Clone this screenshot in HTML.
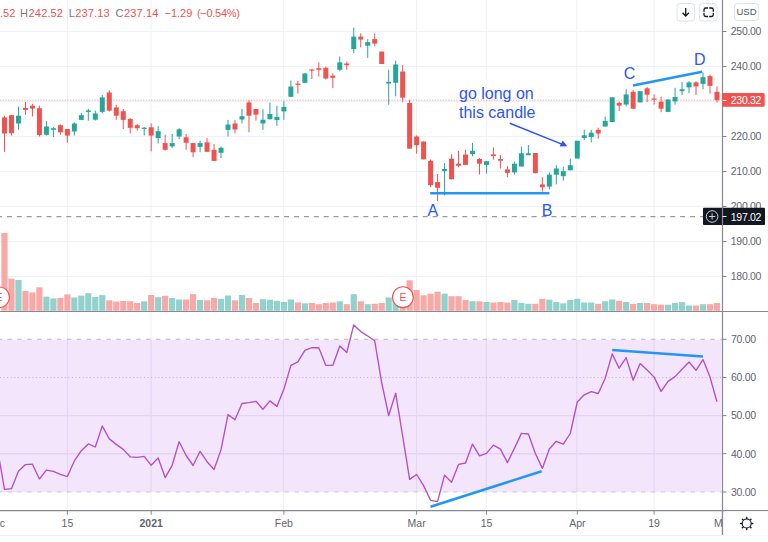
<!DOCTYPE html>
<html><head><meta charset="utf-8"><style>
html,body{margin:0;padding:0;width:768px;height:542px;overflow:hidden;background:#fff}
svg{display:block;position:absolute;left:0;top:0}
text{font-family:"Liberation Sans",sans-serif}
</style></head><body>
<svg width="768" height="542" viewBox="0 0 768 542">
<rect x="0" y="0" width="768" height="542" fill="#fff"/>

<g stroke="#eef1f6" stroke-width="1"><line x1="0" y1="31.5" x2="722" y2="31.5"/><line x1="0" y1="66.5" x2="722" y2="66.5"/><line x1="0" y1="101.5" x2="722" y2="101.5"/><line x1="0" y1="136.5" x2="722" y2="136.5"/><line x1="0" y1="171.5" x2="722" y2="171.5"/><line x1="0" y1="206.5" x2="722" y2="206.5"/><line x1="0" y1="241.5" x2="722" y2="241.5"/><line x1="0" y1="276.5" x2="722" y2="276.5"/><line x1="67.5" y1="0" x2="67.5" y2="510"/><line x1="151" y1="0" x2="151" y2="510"/><line x1="283.5" y1="0" x2="283.5" y2="510"/><line x1="416.5" y1="0" x2="416.5" y2="510"/><line x1="486.3" y1="0" x2="486.3" y2="510"/><line x1="576.8" y1="0" x2="576.8" y2="510"/><line x1="654" y1="0" x2="654" y2="510"/></g>

<g><rect x="1.40" y="232.9" width="6.2" height="77.9" fill="#f7a9a7"/><rect x="8.38" y="278.7" width="6.2" height="32.1" fill="#f7a9a7"/><rect x="15.37" y="280" width="6.2" height="30.8" fill="#92d2cc"/><rect x="22.36" y="291" width="6.2" height="19.8" fill="#f7a9a7"/><rect x="29.34" y="292.5" width="6.2" height="18.3" fill="#f7a9a7"/><rect x="36.33" y="287.3" width="6.2" height="23.5" fill="#f7a9a7"/><rect x="43.31" y="296.6" width="6.2" height="14.2" fill="#92d2cc"/><rect x="50.30" y="298.4" width="6.2" height="12.4" fill="#92d2cc"/><rect x="57.28" y="297.9" width="6.2" height="12.9" fill="#f7a9a7"/><rect x="64.27" y="294.4" width="6.2" height="16.4" fill="#f7a9a7"/><rect x="71.25" y="297.5" width="6.2" height="13.3" fill="#92d2cc"/><rect x="78.24" y="295.6" width="6.2" height="15.2" fill="#92d2cc"/><rect x="85.22" y="293.2" width="6.2" height="17.6" fill="#92d2cc"/><rect x="92.21" y="296.9" width="6.2" height="13.9" fill="#92d2cc"/><rect x="99.19" y="295.1" width="6.2" height="15.7" fill="#92d2cc"/><rect x="106.18" y="300.3" width="6.2" height="10.5" fill="#f7a9a7"/><rect x="113.16" y="301.5" width="6.2" height="9.3" fill="#f7a9a7"/><rect x="120.15" y="301" width="6.2" height="9.8" fill="#f7a9a7"/><rect x="127.13" y="301.3" width="6.2" height="9.5" fill="#f7a9a7"/><rect x="134.12" y="303" width="6.2" height="7.8" fill="#f7a9a7"/><rect x="141.10" y="301.3" width="6.2" height="9.5" fill="#92d2cc"/><rect x="148.09" y="295" width="6.2" height="15.8" fill="#f7a9a7"/><rect x="155.07" y="297.2" width="6.2" height="13.6" fill="#92d2cc"/><rect x="162.06" y="295.8" width="6.2" height="15.0" fill="#f7a9a7"/><rect x="169.04" y="298" width="6.2" height="12.8" fill="#92d2cc"/><rect x="176.03" y="299.5" width="6.2" height="11.3" fill="#92d2cc"/><rect x="183.01" y="299.5" width="6.2" height="11.3" fill="#f7a9a7"/><rect x="190.00" y="294.2" width="6.2" height="16.6" fill="#f7a9a7"/><rect x="196.98" y="300" width="6.2" height="10.8" fill="#92d2cc"/><rect x="203.97" y="300.3" width="6.2" height="10.5" fill="#f7a9a7"/><rect x="210.95" y="297.8" width="6.2" height="13.0" fill="#f7a9a7"/><rect x="217.94" y="298.8" width="6.2" height="12.0" fill="#92d2cc"/><rect x="224.92" y="295.5" width="6.2" height="15.3" fill="#92d2cc"/><rect x="231.91" y="300.3" width="6.2" height="10.5" fill="#f7a9a7"/><rect x="238.89" y="295" width="6.2" height="15.8" fill="#92d2cc"/><rect x="245.88" y="298" width="6.2" height="12.8" fill="#f7a9a7"/><rect x="252.86" y="303" width="6.2" height="7.8" fill="#f7a9a7"/><rect x="259.84" y="299.2" width="6.2" height="11.6" fill="#92d2cc"/><rect x="266.83" y="299.7" width="6.2" height="11.1" fill="#92d2cc"/><rect x="273.81" y="300.8" width="6.2" height="10.0" fill="#92d2cc"/><rect x="280.80" y="302" width="6.2" height="8.8" fill="#92d2cc"/><rect x="287.78" y="299.5" width="6.2" height="11.3" fill="#92d2cc"/><rect x="294.77" y="302.5" width="6.2" height="8.3" fill="#f7a9a7"/><rect x="301.75" y="303.3" width="6.2" height="7.5" fill="#92d2cc"/><rect x="308.74" y="303" width="6.2" height="7.8" fill="#f7a9a7"/><rect x="315.72" y="304.2" width="6.2" height="6.6" fill="#f7a9a7"/><rect x="322.71" y="303" width="6.2" height="7.8" fill="#f7a9a7"/><rect x="329.69" y="302.5" width="6.2" height="8.3" fill="#f7a9a7"/><rect x="336.68" y="301.3" width="6.2" height="9.5" fill="#92d2cc"/><rect x="343.67" y="304.2" width="6.2" height="6.6" fill="#f7a9a7"/><rect x="350.65" y="294.2" width="6.2" height="16.6" fill="#92d2cc"/><rect x="357.63" y="301.3" width="6.2" height="9.5" fill="#f7a9a7"/><rect x="364.62" y="304.2" width="6.2" height="6.6" fill="#92d2cc"/><rect x="371.61" y="303.8" width="6.2" height="7.0" fill="#f7a9a7"/><rect x="378.59" y="303" width="6.2" height="7.8" fill="#f7a9a7"/><rect x="385.57" y="297.5" width="6.2" height="13.3" fill="#92d2cc"/><rect x="392.56" y="300" width="6.2" height="10.8" fill="#92d2cc"/><rect x="399.55" y="296" width="6.2" height="14.8" fill="#f7a9a7"/><rect x="406.53" y="280.3" width="6.2" height="30.5" fill="#f7a9a7"/><rect x="413.51" y="290" width="6.2" height="20.8" fill="#f7a9a7"/><rect x="420.50" y="295.3" width="6.2" height="15.5" fill="#f7a9a7"/><rect x="427.49" y="293.7" width="6.2" height="17.1" fill="#f7a9a7"/><rect x="434.47" y="291.7" width="6.2" height="19.1" fill="#f7a9a7"/><rect x="441.45" y="293.7" width="6.2" height="17.1" fill="#92d2cc"/><rect x="448.44" y="296.2" width="6.2" height="14.6" fill="#f7a9a7"/><rect x="455.43" y="296.2" width="6.2" height="14.6" fill="#f7a9a7"/><rect x="462.41" y="300" width="6.2" height="10.8" fill="#f7a9a7"/><rect x="469.39" y="301.2" width="6.2" height="9.6" fill="#92d2cc"/><rect x="476.38" y="301.3" width="6.2" height="9.5" fill="#f7a9a7"/><rect x="483.37" y="302" width="6.2" height="8.8" fill="#92d2cc"/><rect x="490.35" y="302.5" width="6.2" height="8.3" fill="#f7a9a7"/><rect x="497.33" y="302" width="6.2" height="8.8" fill="#f7a9a7"/><rect x="504.32" y="302.5" width="6.2" height="8.3" fill="#f7a9a7"/><rect x="511.30" y="300" width="6.2" height="10.8" fill="#92d2cc"/><rect x="518.29" y="303" width="6.2" height="7.8" fill="#92d2cc"/><rect x="525.27" y="303.8" width="6.2" height="7.0" fill="#92d2cc"/><rect x="532.26" y="303.8" width="6.2" height="7.0" fill="#f7a9a7"/><rect x="539.25" y="298.8" width="6.2" height="12.0" fill="#f7a9a7"/><rect x="546.23" y="299.7" width="6.2" height="11.1" fill="#92d2cc"/><rect x="553.22" y="302" width="6.2" height="8.8" fill="#92d2cc"/><rect x="560.20" y="303.3" width="6.2" height="7.5" fill="#92d2cc"/><rect x="567.19" y="300" width="6.2" height="10.8" fill="#92d2cc"/><rect x="574.17" y="298.8" width="6.2" height="12.0" fill="#92d2cc"/><rect x="581.15" y="302.5" width="6.2" height="8.3" fill="#92d2cc"/><rect x="588.14" y="302.5" width="6.2" height="8.3" fill="#92d2cc"/><rect x="595.12" y="303.8" width="6.2" height="7.0" fill="#f7a9a7"/><rect x="602.11" y="301.3" width="6.2" height="9.5" fill="#92d2cc"/><rect x="609.10" y="299.5" width="6.2" height="11.3" fill="#92d2cc"/><rect x="616.08" y="300.8" width="6.2" height="10.0" fill="#f7a9a7"/><rect x="623.07" y="302" width="6.2" height="8.8" fill="#92d2cc"/><rect x="630.05" y="303.8" width="6.2" height="7.0" fill="#f7a9a7"/><rect x="637.03" y="303" width="6.2" height="7.8" fill="#92d2cc"/><rect x="644.02" y="303" width="6.2" height="7.8" fill="#f7a9a7"/><rect x="651.00" y="304.2" width="6.2" height="6.6" fill="#f7a9a7"/><rect x="657.99" y="304.7" width="6.2" height="6.1" fill="#f7a9a7"/><rect x="664.98" y="304.7" width="6.2" height="6.1" fill="#92d2cc"/><rect x="671.96" y="303" width="6.2" height="7.8" fill="#92d2cc"/><rect x="678.95" y="302.2" width="6.2" height="8.6" fill="#92d2cc"/><rect x="685.93" y="305.5" width="6.2" height="5.3" fill="#92d2cc"/><rect x="692.91" y="305.5" width="6.2" height="5.3" fill="#f7a9a7"/><rect x="699.90" y="304.2" width="6.2" height="6.6" fill="#92d2cc"/><rect x="706.88" y="304.2" width="6.2" height="6.6" fill="#f7a9a7"/><rect x="713.87" y="303" width="6.2" height="7.8" fill="#f7a9a7"/></g>

<circle cx="-1" cy="297.3" r="10.4" fill="#fff" stroke="#ef5350" stroke-width="1.1"/>
<text x="-1" y="301.3" font-size="10.5" fill="#ef5350" text-anchor="middle">E</text>

<circle cx="402.9" cy="297.2" r="10.4" fill="#fff" stroke="#ef5350" stroke-width="1.1"/>
<text x="402.9" y="301.2" font-size="10.5" fill="#ef5350" text-anchor="middle">E</text>

<line x1="0" y1="100.2" x2="722" y2="100.2" stroke="#ef5350" stroke-width="1.1" stroke-dasharray="1.2 1.5" opacity="0.5"/>

<line x1="0" y1="216.6" x2="703" y2="216.6" stroke="#979ba6" stroke-width="1.1" stroke-dasharray="5 4.9" stroke-dashoffset="3"/>

<g><line x1="4.50" y1="115.7" x2="4.50" y2="151.8" stroke="#ef5350" stroke-width="1"/><rect x="2.00" y="117.4" width="5" height="16.1" fill="#ef5350"/><line x1="11.48" y1="115.2" x2="11.48" y2="135.6" stroke="#ef5350" stroke-width="1"/><rect x="8.98" y="115.2" width="5" height="18.0" fill="#ef5350"/><line x1="18.47" y1="106.6" x2="18.47" y2="129.8" stroke="#26a69a" stroke-width="1"/><rect x="15.97" y="115.7" width="5" height="7.8" fill="#26a69a"/><line x1="25.46" y1="102.1" x2="25.46" y2="114.9" stroke="#ef5350" stroke-width="1"/><rect x="22.96" y="107.9" width="5" height="2.0" fill="#ef5350"/><line x1="32.44" y1="103.8" x2="32.44" y2="116.5" stroke="#ef5350" stroke-width="1"/><rect x="29.94" y="105.7" width="5" height="2.9" fill="#ef5350"/><line x1="39.43" y1="105.7" x2="39.43" y2="136.5" stroke="#ef5350" stroke-width="1"/><rect x="36.93" y="108.2" width="5" height="26.9" fill="#ef5350"/><line x1="46.41" y1="121.2" x2="46.41" y2="135.6" stroke="#26a69a" stroke-width="1"/><rect x="43.91" y="126.5" width="5" height="8.3" fill="#26a69a"/><line x1="53.40" y1="127.0" x2="53.40" y2="137.0" stroke="#26a69a" stroke-width="1"/><rect x="50.90" y="128.2" width="5" height="1.6" fill="#26a69a"/><line x1="60.38" y1="124.5" x2="60.38" y2="134.8" stroke="#ef5350" stroke-width="1"/><rect x="57.88" y="125.2" width="5" height="7.1" fill="#ef5350"/><line x1="67.37" y1="129.0" x2="67.37" y2="142.8" stroke="#ef5350" stroke-width="1"/><rect x="64.87" y="129.0" width="5" height="6.6" fill="#ef5350"/><line x1="74.35" y1="122.4" x2="74.35" y2="135.6" stroke="#26a69a" stroke-width="1"/><rect x="71.85" y="123.5" width="5" height="8.0" fill="#26a69a"/><line x1="81.34" y1="112.9" x2="81.34" y2="120.2" stroke="#26a69a" stroke-width="1"/><rect x="78.84" y="115.2" width="5" height="4.7" fill="#26a69a"/><line x1="88.32" y1="109.0" x2="88.32" y2="120.7" stroke="#26a69a" stroke-width="1"/><rect x="85.82" y="110.4" width="5" height="1.5" fill="#26a69a"/><line x1="95.31" y1="110.7" x2="95.31" y2="120.5" stroke="#26a69a" stroke-width="1"/><rect x="92.81" y="113.5" width="5" height="6.2" fill="#26a69a"/><line x1="102.29" y1="95.0" x2="102.29" y2="113.2" stroke="#26a69a" stroke-width="1"/><rect x="99.79" y="97.4" width="5" height="14.5" fill="#26a69a"/><line x1="109.28" y1="90.3" x2="109.28" y2="111.5" stroke="#ef5350" stroke-width="1"/><rect x="106.78" y="92.5" width="5" height="18.2" fill="#ef5350"/><line x1="116.26" y1="104.6" x2="116.26" y2="119.9" stroke="#ef5350" stroke-width="1"/><rect x="113.76" y="107.4" width="5" height="8.3" fill="#ef5350"/><line x1="123.25" y1="109.0" x2="123.25" y2="129.0" stroke="#ef5350" stroke-width="1"/><rect x="120.75" y="111.2" width="5" height="8.7" fill="#ef5350"/><line x1="130.23" y1="117.9" x2="130.23" y2="133.5" stroke="#ef5350" stroke-width="1"/><rect x="127.73" y="119.0" width="5" height="8.8" fill="#ef5350"/><line x1="137.22" y1="124.0" x2="137.22" y2="130.7" stroke="#ef5350" stroke-width="1"/><rect x="134.72" y="125.2" width="5" height="3.0" fill="#ef5350"/><line x1="144.20" y1="127.0" x2="144.20" y2="135.6" stroke="#26a69a" stroke-width="1"/><rect x="141.70" y="127.7" width="5" height="1.2" fill="#26a69a"/><line x1="151.19" y1="123.5" x2="151.19" y2="151.4" stroke="#ef5350" stroke-width="1"/><rect x="148.69" y="127.3" width="5" height="8.3" fill="#ef5350"/><line x1="158.17" y1="126.2" x2="158.17" y2="143.5" stroke="#26a69a" stroke-width="1"/><rect x="155.67" y="131.2" width="5" height="6.9" fill="#26a69a"/><line x1="165.16" y1="134.8" x2="165.16" y2="150.6" stroke="#ef5350" stroke-width="1"/><rect x="162.66" y="143.1" width="5" height="6.7" fill="#ef5350"/><line x1="172.14" y1="134.0" x2="172.14" y2="148.1" stroke="#26a69a" stroke-width="1"/><rect x="169.64" y="143.1" width="5" height="3.3" fill="#26a69a"/><line x1="179.12" y1="128.2" x2="179.12" y2="139.0" stroke="#26a69a" stroke-width="1"/><rect x="176.62" y="129.3" width="5" height="7.2" fill="#26a69a"/><line x1="186.11" y1="134.0" x2="186.11" y2="149.8" stroke="#ef5350" stroke-width="1"/><rect x="183.61" y="137.3" width="5" height="5.5" fill="#ef5350"/><line x1="193.09" y1="143.1" x2="193.09" y2="157.2" stroke="#ef5350" stroke-width="1"/><rect x="190.59" y="143.1" width="5" height="9.2" fill="#ef5350"/><line x1="200.08" y1="140.6" x2="200.08" y2="152.3" stroke="#26a69a" stroke-width="1"/><rect x="197.58" y="143.1" width="5" height="3.7" fill="#26a69a"/><line x1="207.06" y1="138.1" x2="207.06" y2="151.8" stroke="#ef5350" stroke-width="1"/><rect x="204.56" y="142.3" width="5" height="9.5" fill="#ef5350"/><line x1="214.05" y1="144.0" x2="214.05" y2="160.9" stroke="#ef5350" stroke-width="1"/><rect x="211.55" y="149.8" width="5" height="11.1" fill="#ef5350"/><line x1="221.03" y1="146.4" x2="221.03" y2="158.0" stroke="#26a69a" stroke-width="1"/><rect x="218.53" y="147.8" width="5" height="5.0" fill="#26a69a"/><line x1="228.02" y1="119.9" x2="228.02" y2="136.5" stroke="#26a69a" stroke-width="1"/><rect x="225.52" y="124.5" width="5" height="5.3" fill="#26a69a"/><line x1="235.01" y1="119.9" x2="235.01" y2="133.5" stroke="#ef5350" stroke-width="1"/><rect x="232.51" y="123.5" width="5" height="6.0" fill="#ef5350"/><line x1="241.99" y1="109.0" x2="241.99" y2="123.5" stroke="#26a69a" stroke-width="1"/><rect x="239.49" y="116.2" width="5" height="3.3" fill="#26a69a"/><line x1="248.98" y1="100.3" x2="248.98" y2="132.3" stroke="#ef5350" stroke-width="1"/><rect x="246.48" y="102.4" width="5" height="13.3" fill="#ef5350"/><line x1="255.96" y1="109.0" x2="255.96" y2="120.6" stroke="#ef5350" stroke-width="1"/><rect x="253.46" y="109.0" width="5" height="5.6" fill="#ef5350"/><line x1="262.94" y1="109.3" x2="262.94" y2="129.8" stroke="#26a69a" stroke-width="1"/><rect x="260.44" y="119.7" width="5" height="3.8" fill="#26a69a"/><line x1="269.93" y1="102.6" x2="269.93" y2="119.5" stroke="#26a69a" stroke-width="1"/><rect x="267.43" y="114.0" width="5" height="5.2" fill="#26a69a"/><line x1="276.92" y1="105.8" x2="276.92" y2="125.9" stroke="#26a69a" stroke-width="1"/><rect x="274.42" y="116.9" width="5" height="3.2" fill="#26a69a"/><line x1="283.90" y1="101.2" x2="283.90" y2="119.9" stroke="#26a69a" stroke-width="1"/><rect x="281.40" y="106.9" width="5" height="4.5" fill="#26a69a"/><line x1="290.88" y1="80.5" x2="290.88" y2="97.1" stroke="#26a69a" stroke-width="1"/><rect x="288.38" y="86.6" width="5" height="10.2" fill="#26a69a"/><line x1="297.87" y1="80.6" x2="297.87" y2="93.5" stroke="#ef5350" stroke-width="1"/><rect x="295.37" y="83.6" width="5" height="1.3" fill="#ef5350"/><line x1="304.86" y1="72.8" x2="304.86" y2="82.8" stroke="#26a69a" stroke-width="1"/><rect x="302.36" y="73.5" width="5" height="9.3" fill="#26a69a"/><line x1="311.84" y1="69.0" x2="311.84" y2="79.0" stroke="#ef5350" stroke-width="1"/><rect x="309.34" y="69.5" width="5" height="1.2" fill="#ef5350"/><line x1="318.82" y1="62.4" x2="318.82" y2="76.5" stroke="#ef5350" stroke-width="1"/><rect x="316.32" y="68.2" width="5" height="1.6" fill="#ef5350"/><line x1="325.81" y1="66.5" x2="325.81" y2="79.5" stroke="#ef5350" stroke-width="1"/><rect x="323.31" y="67.8" width="5" height="10.7" fill="#ef5350"/><line x1="332.80" y1="73.2" x2="332.80" y2="88.1" stroke="#ef5350" stroke-width="1"/><rect x="330.30" y="75.6" width="5" height="2.2" fill="#ef5350"/><line x1="339.78" y1="56.5" x2="339.78" y2="71.2" stroke="#26a69a" stroke-width="1"/><rect x="337.28" y="62.4" width="5" height="7.4" fill="#26a69a"/><line x1="346.77" y1="61.5" x2="346.77" y2="69.8" stroke="#ef5350" stroke-width="1"/><rect x="344.27" y="63.5" width="5" height="1.7" fill="#ef5350"/><line x1="353.75" y1="27.5" x2="353.75" y2="53.2" stroke="#26a69a" stroke-width="1"/><rect x="351.25" y="36.6" width="5" height="12.5" fill="#26a69a"/><line x1="360.74" y1="33.3" x2="360.74" y2="47.4" stroke="#ef5350" stroke-width="1"/><rect x="358.24" y="36.6" width="5" height="3.0" fill="#ef5350"/><line x1="367.72" y1="39.1" x2="367.72" y2="57.9" stroke="#26a69a" stroke-width="1"/><rect x="365.22" y="42.1" width="5" height="3.6" fill="#26a69a"/><line x1="374.71" y1="33.6" x2="374.71" y2="46.2" stroke="#ef5350" stroke-width="1"/><rect x="372.21" y="39.1" width="5" height="4.5" fill="#ef5350"/><line x1="381.69" y1="51.6" x2="381.69" y2="64.0" stroke="#ef5350" stroke-width="1"/><rect x="379.19" y="51.6" width="5" height="12.4" fill="#ef5350"/><line x1="388.68" y1="69.8" x2="388.68" y2="104.7" stroke="#26a69a" stroke-width="1"/><rect x="386.18" y="81.8" width="5" height="1.7" fill="#26a69a"/><line x1="395.66" y1="60.7" x2="395.66" y2="96.4" stroke="#26a69a" stroke-width="1"/><rect x="393.16" y="64.5" width="5" height="18.3" fill="#26a69a"/><line x1="402.65" y1="64.9" x2="402.65" y2="102.2" stroke="#ef5350" stroke-width="1"/><rect x="400.15" y="71.5" width="5" height="26.2" fill="#ef5350"/><line x1="409.63" y1="99.7" x2="409.63" y2="148.6" stroke="#ef5350" stroke-width="1"/><rect x="407.13" y="103.0" width="5" height="45.6" fill="#ef5350"/><line x1="416.62" y1="135.4" x2="416.62" y2="153.7" stroke="#ef5350" stroke-width="1"/><rect x="414.12" y="136.5" width="5" height="8.7" fill="#ef5350"/><line x1="423.60" y1="141.5" x2="423.60" y2="159.4" stroke="#ef5350" stroke-width="1"/><rect x="421.10" y="141.5" width="5" height="17.9" fill="#ef5350"/><line x1="430.59" y1="159.4" x2="430.59" y2="187.2" stroke="#ef5350" stroke-width="1"/><rect x="428.09" y="160.8" width="5" height="24.4" fill="#ef5350"/><line x1="437.57" y1="174.0" x2="437.57" y2="200.8" stroke="#ef5350" stroke-width="1"/><rect x="435.07" y="182.1" width="5" height="5.7" fill="#ef5350"/><line x1="444.56" y1="163.0" x2="444.56" y2="195.2" stroke="#26a69a" stroke-width="1"/><rect x="442.06" y="169.0" width="5" height="2.1" fill="#26a69a"/><line x1="451.54" y1="154.1" x2="451.54" y2="179.3" stroke="#ef5350" stroke-width="1"/><rect x="449.04" y="158.6" width="5" height="20.7" fill="#ef5350"/><line x1="458.53" y1="150.8" x2="458.53" y2="167.4" stroke="#ef5350" stroke-width="1"/><rect x="456.03" y="163.7" width="5" height="2.0" fill="#ef5350"/><line x1="465.51" y1="149.6" x2="465.51" y2="164.9" stroke="#ef5350" stroke-width="1"/><rect x="463.01" y="154.6" width="5" height="10.3" fill="#ef5350"/><line x1="472.50" y1="143.0" x2="472.50" y2="156.2" stroke="#26a69a" stroke-width="1"/><rect x="470.00" y="150.8" width="5" height="3.3" fill="#26a69a"/><line x1="479.48" y1="157.9" x2="479.48" y2="174.5" stroke="#ef5350" stroke-width="1"/><rect x="476.98" y="159.0" width="5" height="4.7" fill="#ef5350"/><line x1="486.47" y1="161.2" x2="486.47" y2="173.5" stroke="#26a69a" stroke-width="1"/><rect x="483.97" y="161.2" width="5" height="3.7" fill="#26a69a"/><line x1="493.45" y1="147.4" x2="493.45" y2="159.6" stroke="#ef5350" stroke-width="1"/><rect x="490.95" y="154.4" width="5" height="1.7" fill="#ef5350"/><line x1="500.44" y1="154.9" x2="500.44" y2="168.5" stroke="#ef5350" stroke-width="1"/><rect x="497.94" y="159.1" width="5" height="1.6" fill="#ef5350"/><line x1="507.42" y1="166.2" x2="507.42" y2="177.3" stroke="#ef5350" stroke-width="1"/><rect x="504.92" y="169.4" width="5" height="3.5" fill="#ef5350"/><line x1="514.40" y1="161.6" x2="514.40" y2="174.5" stroke="#26a69a" stroke-width="1"/><rect x="511.90" y="163.7" width="5" height="8.7" fill="#26a69a"/><line x1="521.39" y1="146.6" x2="521.39" y2="166.5" stroke="#26a69a" stroke-width="1"/><rect x="518.89" y="153.3" width="5" height="13.2" fill="#26a69a"/><line x1="528.38" y1="145.0" x2="528.38" y2="155.2" stroke="#26a69a" stroke-width="1"/><rect x="525.88" y="153.3" width="5" height="1.9" fill="#26a69a"/><line x1="535.36" y1="153.0" x2="535.36" y2="173.2" stroke="#ef5350" stroke-width="1"/><rect x="532.86" y="153.0" width="5" height="20.2" fill="#ef5350"/><line x1="542.35" y1="177.3" x2="542.35" y2="191.7" stroke="#ef5350" stroke-width="1"/><rect x="539.85" y="184.4" width="5" height="2.9" fill="#ef5350"/><line x1="549.33" y1="172.5" x2="549.33" y2="189.5" stroke="#26a69a" stroke-width="1"/><rect x="546.83" y="174.7" width="5" height="11.9" fill="#26a69a"/><line x1="556.32" y1="165.2" x2="556.32" y2="184.4" stroke="#26a69a" stroke-width="1"/><rect x="553.82" y="168.5" width="5" height="6.2" fill="#26a69a"/><line x1="563.30" y1="166.7" x2="563.30" y2="180.7" stroke="#26a69a" stroke-width="1"/><rect x="560.80" y="171.2" width="5" height="5.0" fill="#26a69a"/><line x1="570.29" y1="158.5" x2="570.29" y2="170.3" stroke="#26a69a" stroke-width="1"/><rect x="567.79" y="165.2" width="5" height="5.1" fill="#26a69a"/><line x1="577.27" y1="140.8" x2="577.27" y2="158.5" stroke="#26a69a" stroke-width="1"/><rect x="574.77" y="140.8" width="5" height="17.7" fill="#26a69a"/><line x1="584.25" y1="129.8" x2="584.25" y2="140.2" stroke="#26a69a" stroke-width="1"/><rect x="581.75" y="135.3" width="5" height="2.7" fill="#26a69a"/><line x1="591.24" y1="129.8" x2="591.24" y2="142.4" stroke="#26a69a" stroke-width="1"/><rect x="588.74" y="132.7" width="5" height="4.4" fill="#26a69a"/><line x1="598.23" y1="127.6" x2="598.23" y2="138.6" stroke="#ef5350" stroke-width="1"/><rect x="595.73" y="129.8" width="5" height="3.7" fill="#ef5350"/><line x1="605.21" y1="116.5" x2="605.21" y2="126.5" stroke="#26a69a" stroke-width="1"/><rect x="602.71" y="120.9" width="5" height="5.6" fill="#26a69a"/><line x1="612.20" y1="97.3" x2="612.20" y2="122.0" stroke="#26a69a" stroke-width="1"/><rect x="609.70" y="97.3" width="5" height="24.7" fill="#26a69a"/><line x1="619.18" y1="101.7" x2="619.18" y2="111.1" stroke="#ef5350" stroke-width="1"/><rect x="616.68" y="102.8" width="5" height="2.8" fill="#ef5350"/><line x1="626.17" y1="89.3" x2="626.17" y2="106.3" stroke="#26a69a" stroke-width="1"/><rect x="623.67" y="94.4" width="5" height="10.1" fill="#26a69a"/><line x1="633.15" y1="90.0" x2="633.15" y2="109.3" stroke="#ef5350" stroke-width="1"/><rect x="630.65" y="91.8" width="5" height="16.9" fill="#ef5350"/><line x1="640.13" y1="91.2" x2="640.13" y2="102.4" stroke="#26a69a" stroke-width="1"/><rect x="637.63" y="91.2" width="5" height="11.2" fill="#26a69a"/><line x1="647.12" y1="87.1" x2="647.12" y2="102.0" stroke="#ef5350" stroke-width="1"/><rect x="644.62" y="88.3" width="5" height="6.4" fill="#ef5350"/><line x1="654.11" y1="94.4" x2="654.11" y2="104.6" stroke="#ef5350" stroke-width="1"/><rect x="651.61" y="98.5" width="5" height="1.2" fill="#ef5350"/><line x1="661.09" y1="96.6" x2="661.09" y2="112.2" stroke="#ef5350" stroke-width="1"/><rect x="658.59" y="101.7" width="5" height="7.0" fill="#ef5350"/><line x1="668.08" y1="99.5" x2="668.08" y2="111.9" stroke="#26a69a" stroke-width="1"/><rect x="665.58" y="99.5" width="5" height="12.4" fill="#26a69a"/><line x1="675.06" y1="87.8" x2="675.06" y2="104.6" stroke="#26a69a" stroke-width="1"/><rect x="672.56" y="97.0" width="5" height="4.4" fill="#26a69a"/><line x1="682.05" y1="82.0" x2="682.05" y2="95.1" stroke="#26a69a" stroke-width="1"/><rect x="679.55" y="89.3" width="5" height="1.9" fill="#26a69a"/><line x1="689.03" y1="81.2" x2="689.03" y2="93.2" stroke="#26a69a" stroke-width="1"/><rect x="686.53" y="82.4" width="5" height="5.0" fill="#26a69a"/><line x1="696.01" y1="81.2" x2="696.01" y2="95.1" stroke="#ef5350" stroke-width="1"/><rect x="693.51" y="82.4" width="5" height="4.0" fill="#ef5350"/><line x1="703.00" y1="72.5" x2="703.00" y2="89.3" stroke="#26a69a" stroke-width="1"/><rect x="700.50" y="77.2" width="5" height="6.7" fill="#26a69a"/><line x1="709.99" y1="74.7" x2="709.99" y2="93.6" stroke="#ef5350" stroke-width="1"/><rect x="707.49" y="76.1" width="5" height="9.8" fill="#ef5350"/><line x1="716.97" y1="86.4" x2="716.97" y2="102.4" stroke="#ef5350" stroke-width="1"/><rect x="714.47" y="91.8" width="5" height="8.4" fill="#ef5350"/></g>

<line x1="430.2" y1="193.3" x2="549.4" y2="193.3" stroke="#2196f3" stroke-width="2.5"/>
<line x1="633" y1="85.6" x2="702.2" y2="71.8" stroke="#2196f3" stroke-width="2.5"/>
<line x1="509.8" y1="123.3" x2="563" y2="144.6" stroke="#2e55f0" stroke-width="1.5"/>
<polygon points="567.2,146.3 559.6,146.4 562.8,140.4" fill="#2e55f0"/>

<text x="427.6" y="216.4" font-size="16" fill="#2d56f2">A</text>
<text x="541.8" y="216.4" font-size="16" fill="#2d56f2">B</text>
<text x="623.8" y="79" font-size="16" fill="#2d56f2">C</text>
<text x="694" y="64.8" font-size="16" fill="#2d56f2">D</text>
<text x="459" y="99.4" font-size="16" fill="#2d56f2">go long on</text>
<text x="459" y="118.4" font-size="16" fill="#2d56f2">this candle</text>

<g font-size="11">
<text x="0" y="16.8" fill="#ef5350">.52</text>
<text x="20" y="16.8" fill="#787b86">H</text>
<text x="28.6" y="16.8" fill="#ef5350" letter-spacing="0.15">242.52</text>
<text x="68.8" y="16.8" fill="#787b86">L</text>
<text x="75.3" y="16.8" fill="#ef5350" letter-spacing="0.15">237.13</text>
<text x="115.6" y="16.8" fill="#787b86">C</text>
<text x="124" y="16.8" fill="#ef5350" letter-spacing="0.15">237.14</text>
<text x="164.5" y="16.8" fill="#ef5350">−1.29</text>
<text x="197" y="16.8" fill="#ef5350" letter-spacing="-0.3">(−0.54%)</text>
</g>

<g fill="#fff" stroke="#e0e3eb" stroke-width="1">
<rect x="677" y="3.5" width="17.5" height="17.5" rx="3"/>
<rect x="699.5" y="3.5" width="17.5" height="17.5" rx="3"/>
<rect x="734.5" y="3.5" width="24" height="17" rx="3"/>
</g>
<g stroke="#131722" stroke-width="1.3" fill="none"><line x1="685.7" y1="8" x2="685.7" y2="16"/><polyline points="682.6,12.8 685.7,16 688.8,12.8"/></g>
<g fill="none" stroke="#131722" stroke-width="1.3"><path d="M704,11.7 V9.8 Q704,8 705.8,8 H708.1 M709.2,8 H711.5 Q713.3,8 713.3,9.8 V11.7 M713.3,12.8 V14.7 Q713.3,16.5 711.5,16.5 H709.2 M708.1,16.5 H705.8 Q704,16.5 704,14.7 V12.8"/></g>
<text x="746.5" y="15.2" font-size="9.5" fill="#50535e" text-anchor="middle">USD</text>

<line x1="722.5" y1="0" x2="722.5" y2="535" stroke="#868993" stroke-width="1.2"/>
<g font-size="10.5" fill="#62656f" letter-spacing="-0.3">
<line x1="722.5" y1="31.5" x2="726.5" y2="31.5" stroke="#868993"/>
<text x="730.8" y="35.3">250.00</text>
<line x1="722.5" y1="66.5" x2="726.5" y2="66.5" stroke="#868993"/>
<text x="730.8" y="70.3">240.00</text>
<line x1="722.5" y1="136.5" x2="726.5" y2="136.5" stroke="#868993"/>
<text x="730.8" y="140.3">220.00</text>
<line x1="722.5" y1="171.5" x2="726.5" y2="171.5" stroke="#868993"/>
<text x="730.8" y="175.3">210.00</text>
<line x1="722.5" y1="206.5" x2="726.5" y2="206.5" stroke="#868993"/>
<text x="730.8" y="210.3">200.00</text>
<line x1="722.5" y1="241.5" x2="726.5" y2="241.5" stroke="#868993"/>
<text x="730.8" y="245.3">190.00</text>
<line x1="722.5" y1="276.5" x2="726.5" y2="276.5" stroke="#868993"/>
<text x="730.8" y="280.3">180.00</text>
</g>
<line x1="722.5" y1="339.3" x2="726.5" y2="339.3" stroke="#868993"/>
<line x1="722.5" y1="377.5" x2="726.5" y2="377.5" stroke="#868993"/>
<line x1="722.5" y1="415.6" x2="726.5" y2="415.6" stroke="#868993"/>
<line x1="722.5" y1="453.7" x2="726.5" y2="453.7" stroke="#868993"/>
<line x1="722.5" y1="492" x2="726.5" y2="492" stroke="#868993"/>
<g font-size="10.5" fill="#62656f" letter-spacing="-0.3">
<text x="731" y="343.1">70.00</text>
<text x="731" y="381.3">60.00</text>
<text x="731" y="419.40000000000003">50.00</text>
<text x="731" y="457.5">40.00</text>
<text x="731" y="495.8">30.00</text>
</g>

<rect x="722" y="93" width="42.7" height="13.8" rx="1.5" fill="#ef5350"/>
<line x1="722.5" y1="100.5" x2="726.5" y2="100.5" stroke="#fff"/>
<text x="730.8" y="104.3" font-size="10.5" fill="#fff" letter-spacing="-0.3">230.32</text>

<rect x="703" y="207.7" width="62" height="17.3" rx="1" fill="#131722"/>
<line x1="722.5" y1="207.7" x2="722.5" y2="225" stroke="#868993" stroke-width="1.2"/>
<circle cx="712.1" cy="216.5" r="5.8" fill="none" stroke="#d1d4dc" stroke-width="1"/>
<g stroke="#d1d4dc" stroke-width="1"><line x1="709" y1="216.5" x2="715.2" y2="216.5"/><line x1="712.1" y1="213.4" x2="712.1" y2="219.6"/></g>
<line x1="722.5" y1="216.5" x2="726.5" y2="216.5" stroke="#fff"/>
<text x="730.8" y="220.8" font-size="10.5" fill="#fff" letter-spacing="-0.3">197.02</text>

<line x1="0" y1="311.5" x2="768" y2="311.5" stroke="#868993" stroke-width="1.2"/>

<rect x="0" y="339.8" width="722" height="152.2" fill="#f3e6fc"/>
<line x1="0" y1="415.6" x2="722" y2="415.6" stroke="#e3d4f5" stroke-width="1.4"/>
<line x1="0" y1="453.7" x2="722" y2="453.7" stroke="#e3d4f5" stroke-width="1.4"/>
<line x1="67.5" y1="339.8" x2="67.5" y2="492" stroke="#e4d6f6" stroke-width="1.2"/>
<line x1="151" y1="339.8" x2="151" y2="492" stroke="#e4d6f6" stroke-width="1.2"/>
<line x1="283.5" y1="339.8" x2="283.5" y2="492" stroke="#e4d6f6" stroke-width="1.2"/>
<line x1="416.5" y1="339.8" x2="416.5" y2="492" stroke="#e4d6f6" stroke-width="1.2"/>
<line x1="486.3" y1="339.8" x2="486.3" y2="492" stroke="#e4d6f6" stroke-width="1.2"/>
<line x1="576.8" y1="339.8" x2="576.8" y2="492" stroke="#e4d6f6" stroke-width="1.2"/>
<line x1="654" y1="339.8" x2="654" y2="492" stroke="#e4d6f6" stroke-width="1.2"/>
<line x1="0" y1="377.5" x2="722" y2="377.5" stroke="#bdb0d0" stroke-width="1" stroke-dasharray="1 2.6"/>
<line x1="0" y1="339.3" x2="722" y2="339.3" stroke="#b3b6bd" stroke-width="1.1" stroke-dasharray="4.5 5.4" stroke-dashoffset="2.5"/>
<line x1="0" y1="492" x2="722" y2="492" stroke="#cdcad5" stroke-width="1" stroke-dasharray="4.5 5.4" stroke-dashoffset="2.5"/>
<polyline points="-2.49,449 4.50,489.4 11.48,488.7 18.47,471.3 25.46,464.6 32.44,464.2 39.43,479 46.41,470.1 53.40,471.4 60.38,474.4 67.37,476.6 74.35,460.9 81.34,450.7 88.32,443.9 95.31,447 102.29,426 109.28,438.9 116.26,444.4 123.25,449.4 130.23,456.8 137.22,457.3 144.20,456.4 151.19,465.3 158.17,457.9 165.16,477.6 172.14,465.3 179.12,441.7 186.11,455.5 193.09,465.5 200.08,451.3 207.06,461.7 214.05,469.5 221.03,449.6 228.02,414.6 235.01,419.7 241.99,403.5 248.98,402.7 255.96,401.3 262.94,409.3 269.93,400.9 276.92,406.4 283.90,389.1 290.88,365.4 297.87,361.9 304.86,350.4 311.84,347.7 318.82,347.7 325.81,365.4 332.80,365.4 339.78,346 346.77,352.6 353.75,325 360.74,331.6 367.72,336 374.71,340.8 381.69,382.6 388.68,415.5 395.66,393.2 402.65,436 409.63,479.4 416.62,474.5 423.60,485.6 430.59,500.3 437.57,501.6 444.56,475.1 451.54,482.3 458.53,464.4 465.51,463 472.50,444.1 479.48,455.8 486.47,453.4 493.45,445.1 500.44,449.1 507.42,462.6 514.40,448.4 521.39,433.4 528.38,434 535.36,453.5 542.35,468.4 549.33,449 556.32,441.3 563.30,444.1 570.29,433.5 577.27,402 584.25,394.8 591.24,391.7 598.23,393.5 605.21,378.2 612.20,353.9 619.18,368.2 626.17,357.6 633.15,380.3 640.13,363.6 647.12,370 654.11,377.1 661.09,391.4 668.08,381.4 675.06,376.6 682.05,369.2 689.03,362 696.01,370.3 703.00,359.6 709.99,377.1 716.97,401.7" fill="none" stroke="#b14fcc" stroke-width="1.35" stroke-linejoin="round"/>
<line x1="430.5" y1="506.8" x2="541.6" y2="471.3" stroke="#2196f3" stroke-width="2.5"/>
<line x1="612.2" y1="350.1" x2="703" y2="356.4" stroke="#2196f3" stroke-width="2.5"/>

<line x1="0" y1="510.7" x2="768" y2="510.7" stroke="#868993" stroke-width="1.2"/>
<line x1="0" y1="535.5" x2="768" y2="535.5" stroke="#eef0f4" stroke-width="1"/>
<rect x="0" y="536" width="768" height="6" fill="#fff"/>
<g font-size="10.5" fill="#62656f" text-anchor="middle">
<line x1="-4.3" y1="510.7" x2="-4.3" y2="514.7" stroke="#868993"/>
<text x="-4.3" y="526.5">Dec</text>
<line x1="67.4" y1="510.7" x2="67.4" y2="514.7" stroke="#868993"/>
<text x="67.4" y="526.5">15</text>
<line x1="151.2" y1="510.7" x2="151.2" y2="514.7" stroke="#868993"/>
<text x="151.2" y="526.5" font-weight="bold">2021</text>
<line x1="283.9" y1="510.7" x2="283.9" y2="514.7" stroke="#868993"/>
<text x="283.9" y="526.5">Feb</text>
<line x1="416.6" y1="510.7" x2="416.6" y2="514.7" stroke="#868993"/>
<text x="416.6" y="526.5">Mar</text>
<line x1="486.5" y1="510.7" x2="486.5" y2="514.7" stroke="#868993"/>
<text x="486.5" y="526.5">15</text>
<line x1="577.3" y1="510.7" x2="577.3" y2="514.7" stroke="#868993"/>
<text x="577.3" y="526.5">Apr</text>
<line x1="654.1" y1="510.7" x2="654.1" y2="514.7" stroke="#868993"/>
<text x="654.1" y="526.5">19</text>
<line x1="724.0" y1="510.7" x2="724.0" y2="514.7" stroke="#868993"/>
<text x="724.0" y="526.5">May</text>
</g>
<rect x="723.1" y="511.4" width="45" height="24" fill="#fff"/>
<line x1="722.5" y1="510" x2="722.5" y2="535" stroke="#868993" stroke-width="1.2"/>
<g stroke="#131722" stroke-width="1.4" stroke-linecap="round"><line x1="751.10" y1="523.50" x2="752.80" y2="523.50"/><line x1="749.81" y1="526.61" x2="751.01" y2="527.81"/><line x1="746.70" y1="527.90" x2="746.70" y2="529.60"/><line x1="743.59" y1="526.61" x2="742.39" y2="527.81"/><line x1="742.30" y1="523.50" x2="740.60" y2="523.50"/><line x1="743.59" y1="520.39" x2="742.39" y2="519.19"/><line x1="746.70" y1="519.10" x2="746.70" y2="517.40"/><line x1="749.81" y1="520.39" x2="751.01" y2="519.19"/></g>
<circle cx="746.7" cy="523.5" r="4.5" fill="#fff" stroke="#131722" stroke-width="1.1"/>
</svg></body></html>
